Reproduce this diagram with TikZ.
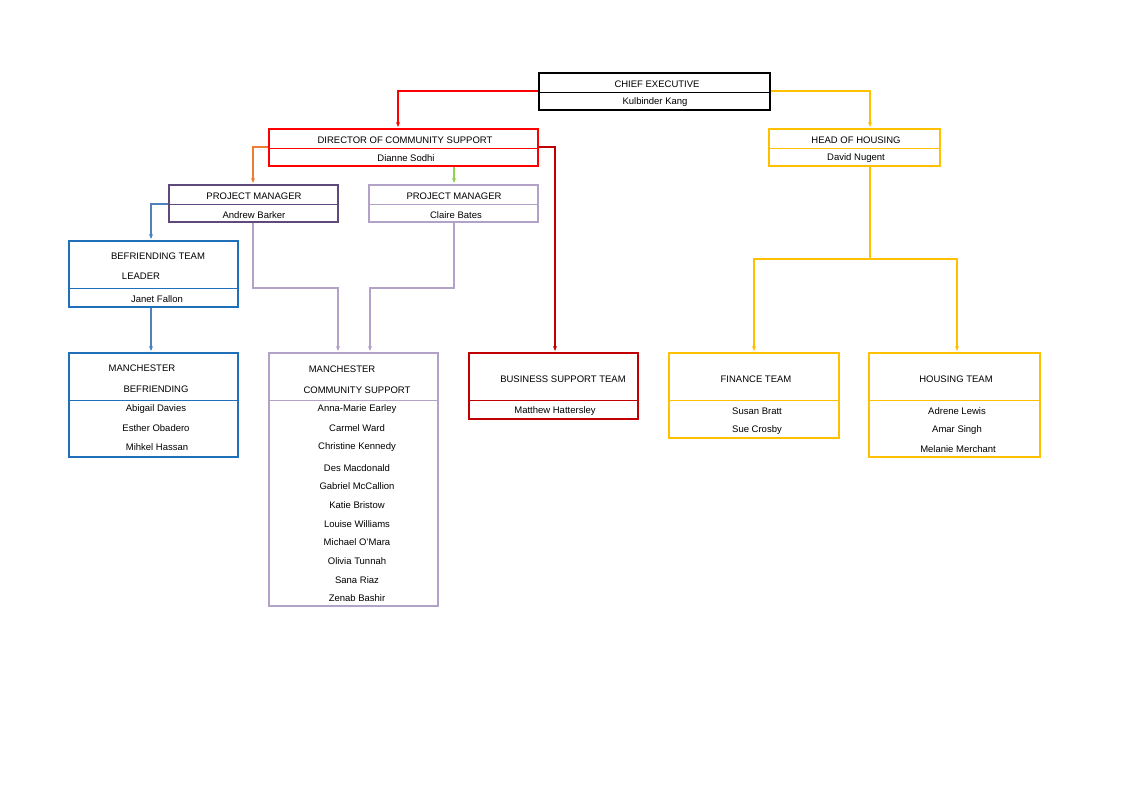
\documentclass[tikz,border=0pt]{standalone}
\usepackage{fontspec}
\setmainfont{Liberation Sans}
\usetikzlibrary{arrows.meta}
\definecolor{cred}{HTML}{FF0000}
\definecolor{cdred}{HTML}{C00000}
\definecolor{cgold}{HTML}{FFC000}
\definecolor{cpurp}{HTML}{5F497A}
\definecolor{clav}{HTML}{B3A2C7}
\definecolor{cblue}{HTML}{1F70B8}
\definecolor{corange}{HTML}{ED7D31}
\definecolor{cgreen}{HTML}{92D050}
\definecolor{cblue2}{HTML}{4F81BD}
\begin{document}
\begin{tikzpicture}[x=1pt,y=-1pt,
  bx/.style={line width=2.2pt},
  dv/.style={line width=1pt},
  cn/.style={line width=1.3pt,-{Stealth[length=5pt,width=4pt]}},
  ln/.style={line width=1.3pt},
  t/.style={font=\fontsize{9.5}{11}\selectfont,inner sep=0pt,anchor=center}]
\useasboundingbox (0,0) rectangle (1122,793);
% CEO
\draw[bx,black] (539,73) rectangle (770,110); \draw[dv] (539,92)--(770,92);
\node[t] (ceo) at (657,84) {CHIEF EXECUTIVE};
\node[t] at (655,102) {Kulbinder Kang};
% Director
\draw[bx,cred] (269,129) rectangle (538,166); \draw[dv,cred] (269,148)--(538,148);
\node[t] at (405,140) {DIRECTOR OF COMMUNITY SUPPORT};
\node[t] at (406,158) {Dianne Sodhi};
% Head of housing
\draw[bx,cgold] (769,129) rectangle (940,166); \draw[dv,cgold] (769,148)--(940,148);
\node[t] at (856,140) {HEAD OF HOUSING};
\node[t] at (856,158) {David Nugent};
% PM1
\draw[bx,cpurp] (169,185) rectangle (338,222); \draw[dv,cpurp] (169,204)--(338,204);
\node[t] at (254,196) {PROJECT MANAGER};
\node[t] at (254,215) {Andrew Barker};
% PM2
\draw[bx,clav] (369,185) rectangle (538,222); \draw[dv,clav] (369,204)--(538,204);
\node[t] at (454,196) {PROJECT MANAGER};
\node[t] at (456,215) {Claire Bates};
% BTL
\draw[bx,cblue] (69,241) rectangle (238,307); \draw[dv,cblue] (69,288)--(238,288);
\node[t] at (158,256) {BEFRIENDING TEAM};
\node[t] at (141,276) {LEADER};
\node[t] at (157,299) {Janet Fallon};
% Manchester Befriending
\draw[bx,cblue] (69,353) rectangle (238,457); \draw[dv,cblue] (69,400)--(238,400);
\node[t] at (142,368) {MANCHESTER};
\node[t] at (156,389) {BEFRIENDING};
\node[t] at (156,409) {Abigail Davies};
\node[t] at (156,428) {Esther Obadero};
\node[t] at (157,447) {Mihkel Hassan};
% Manchester Community
\draw[bx,clav] (269,353) rectangle (438,606); \draw[dv,clav] (269,400)--(438,400);
\node[t] at (342,369) {MANCHESTER};
\node[t] at (357,390) {COMMUNITY SUPPORT};
\foreach \n/\y in {Anna-Marie Earley/409,Carmel Ward/428,Christine Kennedy/447,Des Macdonald/468,Gabriel McCallion/486,Katie Bristow/505,Louise Williams/524,Michael O'Mara/542,Olivia Tunnah/561,Sana Riaz/580,Zenab Bashir/598}
  \node[t] at (357,\y) {\n};
% Business support
\draw[bx,cdred] (469,353) rectangle (638,419); \draw[dv,cdred] (469,400)--(638,400);
\node[t] at (563,379) {BUSINESS SUPPORT TEAM};
\node[t] at (555,411) {Matthew Hattersley};
% Finance
\draw[bx,cgold] (669,353) rectangle (839,438); \draw[dv,cgold] (669,400)--(839,400);
\node[t] at (756,379) {FINANCE TEAM};
\node[t] at (757,411) {Susan Bratt};
\node[t] at (757,430) {Sue Crosby};
% Housing
\draw[bx,cgold] (869,353) rectangle (1040,457); \draw[dv,cgold] (869,400)--(1040,400);
\node[t] at (956,379) {HOUSING TEAM};
\node[t] at (957,411) {Adrene Lewis};
\node[t] at (957,430) {Amar Singh};
\node[t] at (958,449) {Melanie Merchant};
% connectors
\draw[cn,cred] (538,91) -| (398,127);
\draw[cn,cgold] (771,91) -| (870,127);
\draw[cn,corange] (268,147) -| (253,183);
\draw[cn,cgreen] (454,167) -- (454,183);
\draw[cn,cdred] (539,147) -| (555,351);
\draw[cn,cblue2] (168,204) -| (151,239);
\draw[cn,cblue2] (151,308) -- (151,351);
\draw[cn,clav] (253,223) |- (338,288) -- (338,351);
\draw[cn,clav] (454,223) |- (370,288) -- (370,351);
\draw[ln,cgold] (870,167) -- (870,259);
\draw[cn,cgold] (870,259) -| (754,351);
\draw[cn,cgold] (870,259) -| (957,351);
\end{tikzpicture}
\end{document}
